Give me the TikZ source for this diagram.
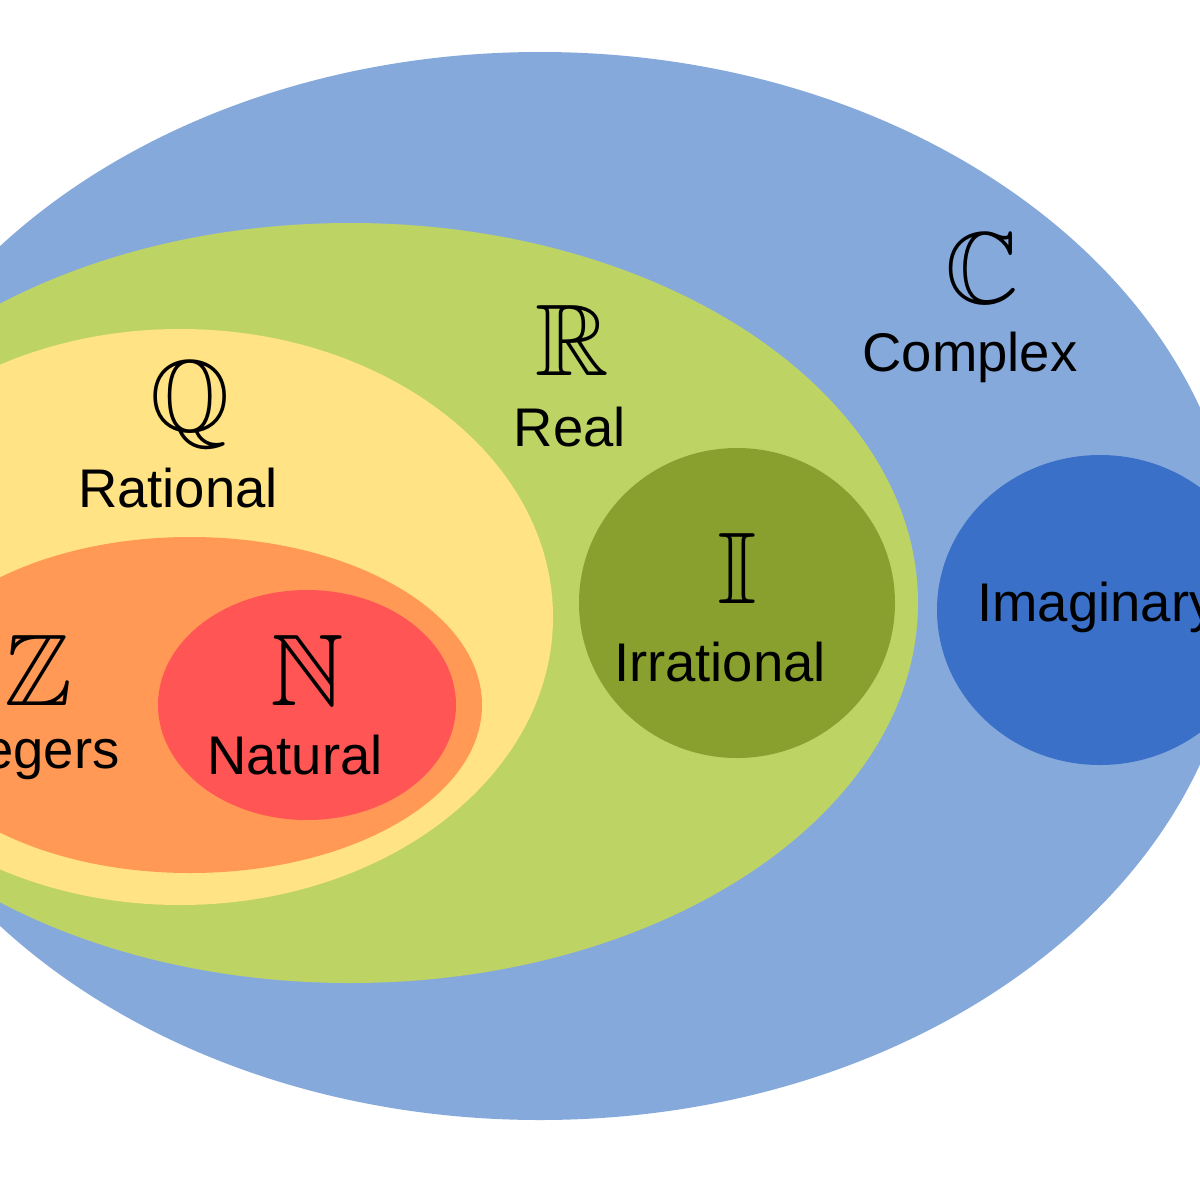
\documentclass[tikz,border=0pt]{standalone}
\usepackage{amsfonts}
\usepackage{fontspec}
\setmainfont{Liberation Sans}
\definecolor{cblue}{HTML}{86A9DC}
\definecolor{cgreen}{HTML}{BDD464}
\definecolor{cyellow}{HTML}{FFE384}
\definecolor{corange}{HTML}{FF9955}
\definecolor{cred}{HTML}{FF5555}
\definecolor{cirr}{HTML}{8AA02E}
\definecolor{cimag}{HTML}{3A70C8}
\begin{document}
\begin{tikzpicture}[x=0.02cm,y=-0.02cm,
  word/.style={font=\fontsize{31}{34}\selectfont,inner sep=0pt},
  sym/.style={font=\fontsize{58}{60}\selectfont,inner sep=0pt}]
\useasboundingbox (0,0) rectangle (1200,1200);
\clip (0,0) rectangle (1200,1200);
\fill[white] (0,0) rectangle (1200,1200);
\fill[cblue] (540,586) ellipse [x radius=700, y radius=534];
\fill[cgreen] (350,603) ellipse [x radius=568, y radius=380];
\fill[cyellow] (180,617) ellipse [x radius=373, y radius=288];
\fill[corange] (190,705) ellipse [x radius=292, y radius=168];
\fill[cred] (307,705) ellipse [x radius=149, y radius=115];
\fill[cirr] (737,603) ellipse [x radius=158, y radius=155];
\fill[cimag] (1100,610) ellipse [x radius=163, y radius=155];
\node[sym] (c) at (982,268) {$\mathbb{C}$};
\node[word] (cl) at (970,357) {Complex};
\node[sym] (r) at (572,340) {$\mathbb{R}$};
\node[word] (rl) at (570,427) {Real};
\node[sym] (q) at (190,405) {$\mathbb{Q}$};
\node[word] (ql) at (178,488) {Rational};
\node[sym] (z) at (38,670) {$\mathbb{Z}$};
\node[word,anchor=east] (zl) at (120,755) {Integers};
\node[sym] (n) at (307,670) {$\mathbb{N}$};
\node[word] (nl) at (295,755) {Natural};
\node[sym] (i) at (737,568) {$\mathbb{I}$};
\node[word] (il) at (720,662) {Irrational};
\node[word,anchor=west] (iml) at (977,607) {Imaginary};
\end{tikzpicture}
\end{document}
